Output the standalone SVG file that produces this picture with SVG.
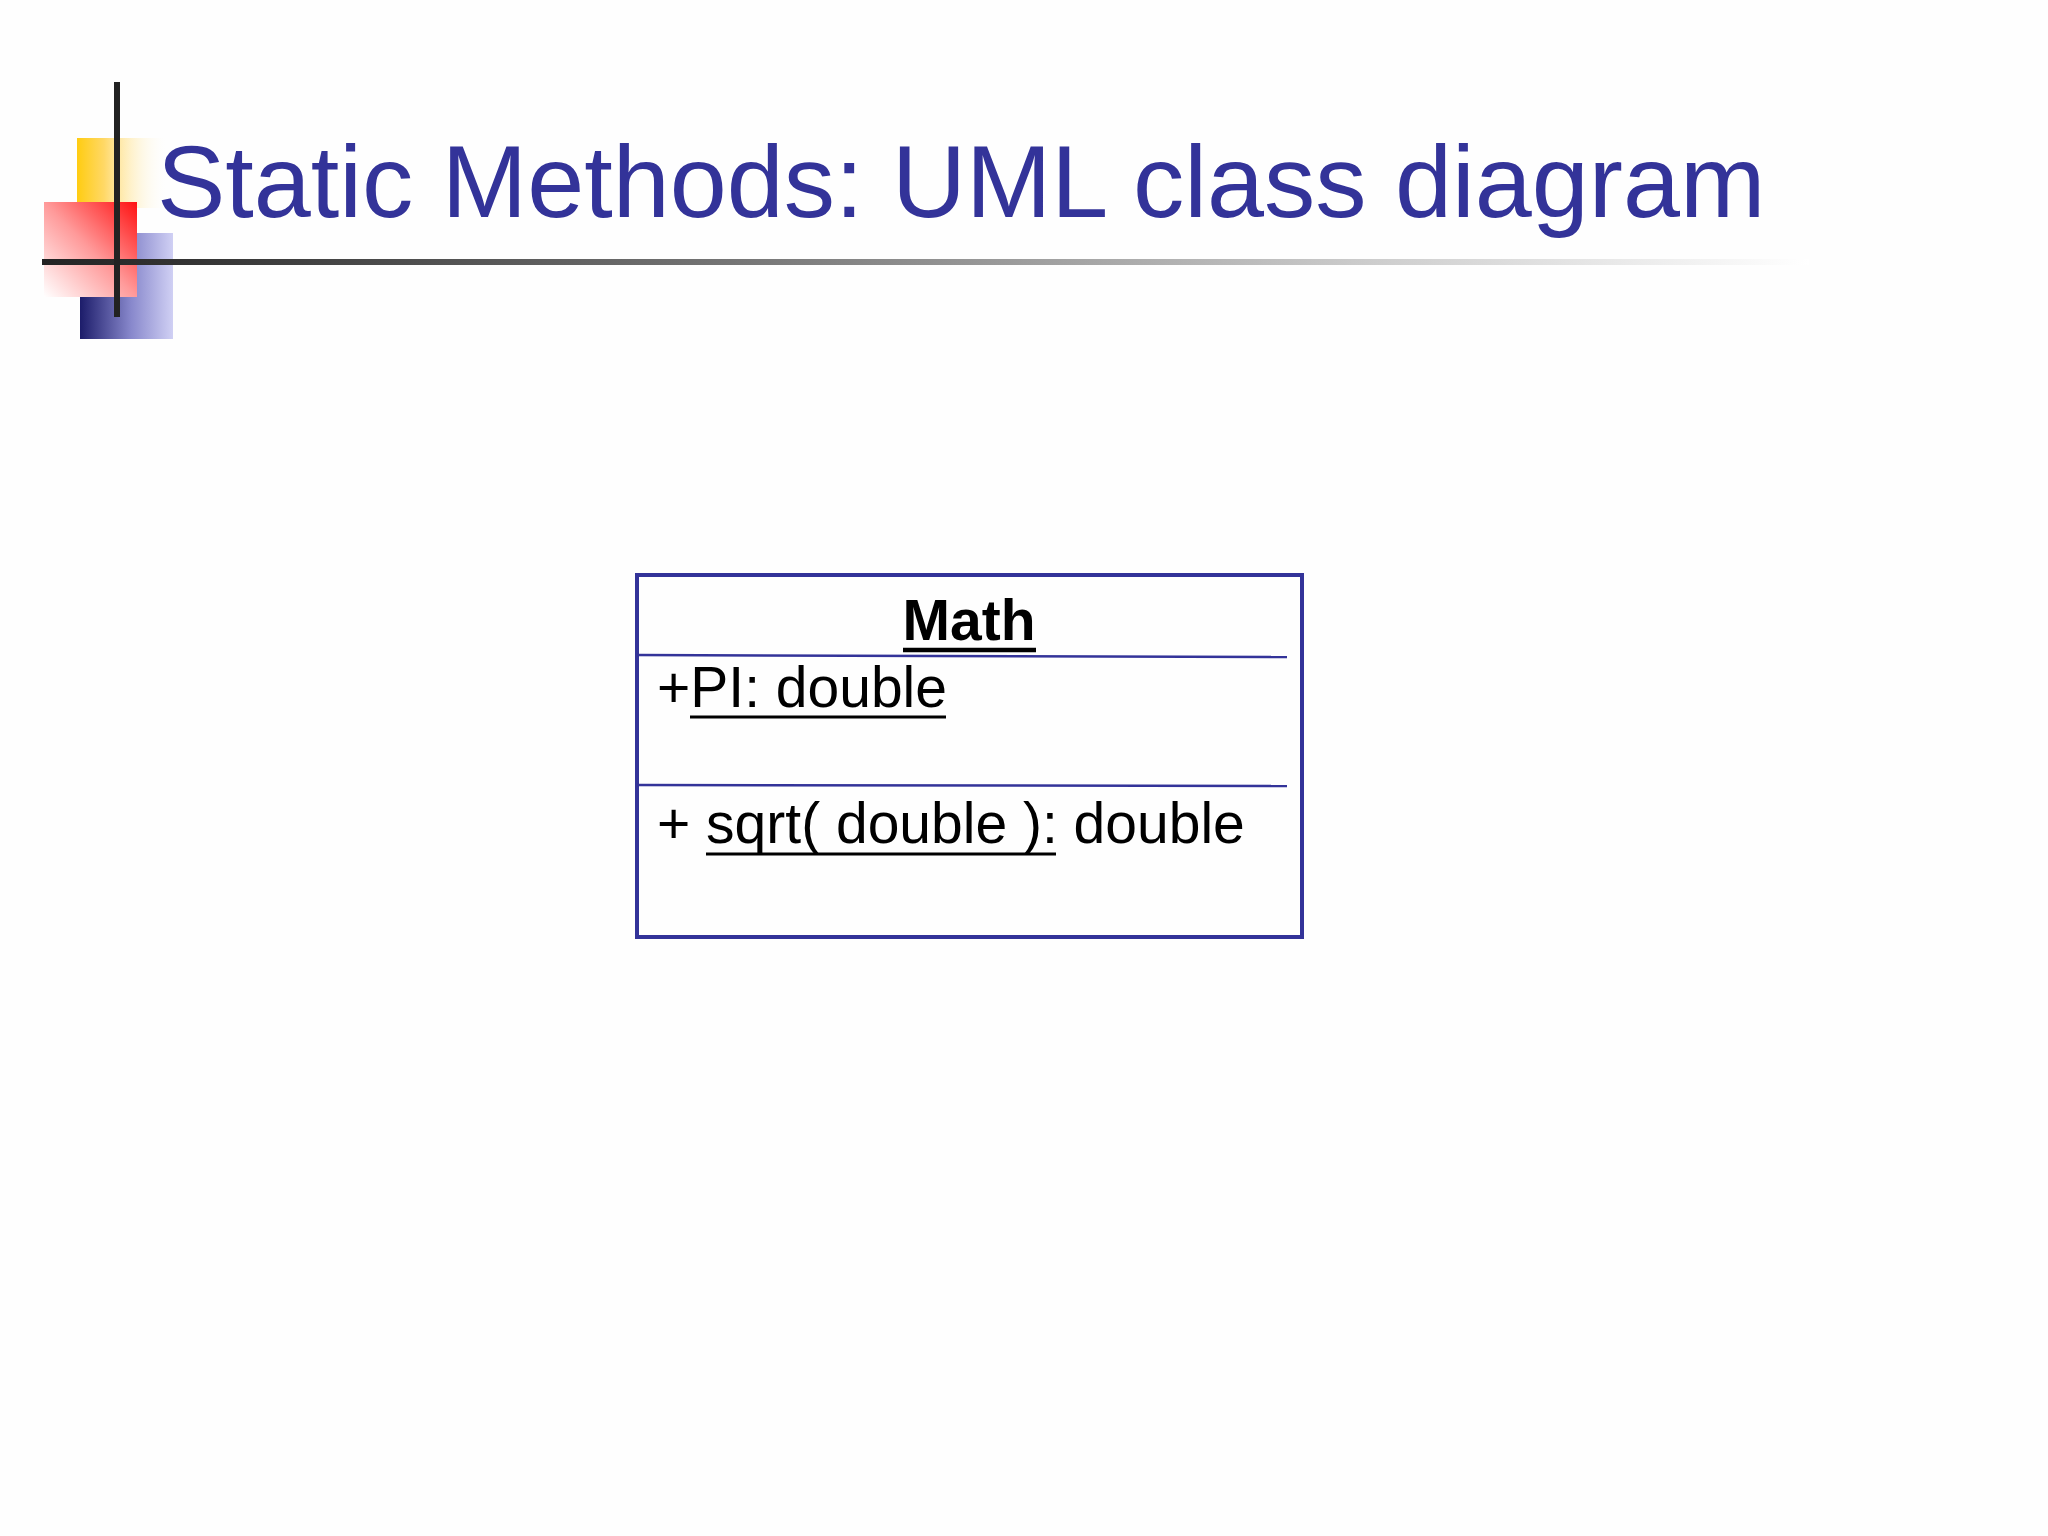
<svg xmlns="http://www.w3.org/2000/svg" width="2048" height="1536" viewBox="0 0 2048 1536">
<defs>
<linearGradient id="gYellow" x1="0" y1="0" x2="1" y2="0">
<stop offset="0" stop-color="#ffcc11"/>
<stop offset="0.3" stop-color="#ffd866"/>
<stop offset="1" stop-color="#fffdf8" stop-opacity="0"/>
</linearGradient>
<linearGradient id="gRed" x1="1" y1="0" x2="0" y2="1">
<stop offset="0" stop-color="#ff1111"/>
<stop offset="0.5" stop-color="#ff9a9a"/>
<stop offset="1" stop-color="#ffffff"/>
</linearGradient>
<linearGradient id="gBlue" x1="0" y1="0" x2="1" y2="0">
<stop offset="0" stop-color="#1c1c6a"/>
<stop offset="0.55" stop-color="#8888cc"/>
<stop offset="1" stop-color="#d0d0f4"/>
</linearGradient>
<linearGradient id="gRule" x1="0" y1="0" x2="1" y2="0">
<stop offset="0" stop-color="#222222"/>
<stop offset="0.4" stop-color="#777777"/>
<stop offset="0.75" stop-color="#cccccc"/>
<stop offset="1" stop-color="#ffffff"/>
</linearGradient>
<style>
.title{font-family:"Liberation Sans",Arial,sans-serif;font-size:102.5px;fill:#333399}
.cls{font-family:"Liberation Sans",Arial,sans-serif;font-size:57px;fill:#000000}
.clsb{font-family:"Liberation Sans",Arial,sans-serif;font-size:57px;font-weight:bold;fill:#000000}
.ul{stroke:#000000;stroke-width:3}
.frame{fill:none;stroke:#333399;stroke-width:4}
.div{stroke:#333399;stroke-width:2.5}
</style>
</defs>
<rect x="0" y="0" width="2048" height="1536" fill="#fefefe"/>
<g id="decoration">
<rect x="77" y="138" width="90" height="70" fill="url(#gYellow)"/>
<rect x="80" y="233" width="93" height="106" fill="url(#gBlue)"/>
<rect x="44" y="202" width="93" height="95" fill="url(#gRed)"/>
<rect x="42" y="259" width="1767" height="6" fill="url(#gRule)"/>
<rect x="114" y="82" width="6" height="235" fill="#222222"/>
</g>
<g id="title">
<text class="title" x="157" y="217">Static Methods: UML class diagram</text>
</g>
<g id="node-math">
<rect class="frame" x="637" y="575" width="665" height="362"/>
<line class="div" x1="637" y1="655" x2="1287" y2="657"/>
<line class="div" x1="637" y1="785" x2="1287" y2="786"/>
<text class="clsb" x="969" y="640" text-anchor="middle">Math</text>
<line x1="903" y1="650" x2="1036" y2="650" stroke="#000" stroke-width="4.5"/>
<text class="cls" x="657" y="707">+PI: double</text>
<line class="ul" x1="690" y1="717" x2="946" y2="717"/>
<text class="cls" x="657" y="843">+ sqrt( double ): double</text>
<line class="ul" x1="706" y1="854" x2="1056" y2="854"/>
</g>
<g id="connectors"></g>
</svg>
